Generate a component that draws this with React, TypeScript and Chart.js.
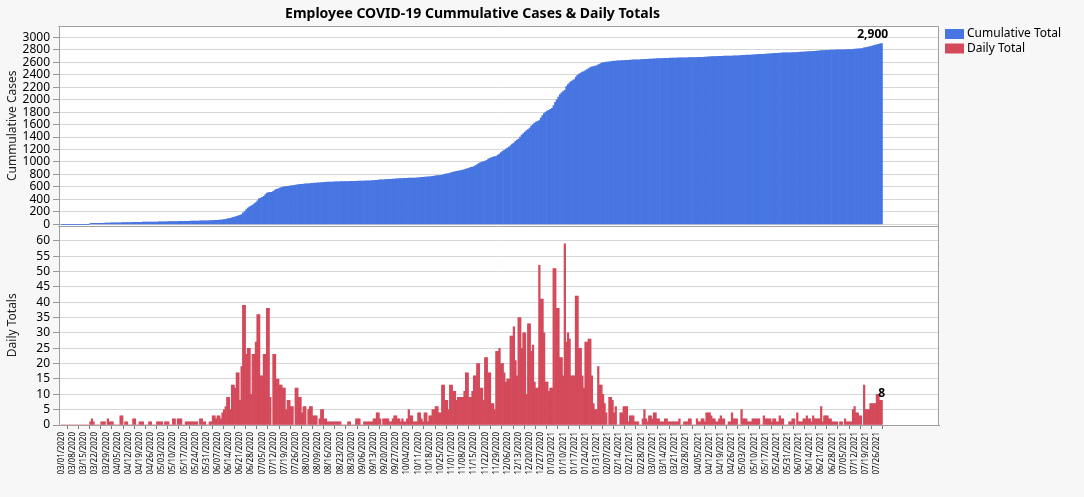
import React, { useEffect, useRef } from 'react';
import { Chart, registerables } from 'chart.js';

Chart.register(...registerables);

const START_DATE = '03/01/2020';

const xTickLabels = [
  '03/01/2020', '03/08/2020', '03/15/2020', '03/22/2020', '03/29/2020', '04/05/2020', '04/12/2020', '04/19/2020',
  '04/26/2020', '05/03/2020', '05/10/2020', '05/17/2020', '05/24/2020', '05/31/2020', '06/07/2020', '06/14/2020',
  '06/21/2020', '06/28/2020', '07/05/2020', '07/12/2020', '07/19/2020', '07/26/2020', '08/02/2020', '08/09/2020',
  '08/16/2020', '08/23/2020', '08/30/2020', '09/06/2020', '09/13/2020', '09/20/2020', '09/27/2020', '10/04/2020',
  '10/11/2020', '10/18/2020', '10/25/2020', '11/01/2020', '11/08/2020', '11/15/2020', '11/22/2020', '11/29/2020',
  '12/06/2020', '12/13/2020', '12/20/2020', '12/27/2020', '01/03/2021', '01/10/2021', '01/17/2021', '01/24/2021',
  '01/31/2021', '02/07/2021', '02/14/2021', '02/21/2021', '02/28/2021', '03/07/2021', '03/14/2021', '03/21/2021',
  '03/28/2021', '04/05/2021', '04/12/2021', '04/19/2021', '04/26/2021', '05/03/2021', '05/10/2021', '05/17/2021',
  '05/24/2021', '05/31/2021', '06/07/2021', '06/14/2021', '06/21/2021', '06/28/2021', '07/05/2021', '07/12/2021',
  '07/19/2021', '07/26/2021',
];

const cumulativeTicks = [0, 200, 400, 600, 800, 1000, 1200, 1400, 1600, 1800, 2000, 2200, 2400, 2600, 2800, 3000];
const dailyTicks = [0, 5, 10, 15, 20, 25, 30, 35, 40, 45, 50, 55, 60];

// one value per day, starting 03/01/2020
const dailyTotals = [
  0, 0, 0, 0, 0, 0, 0, 0, 0, 0,
  0, 0, 0, 0, 0, 0, 0, 0, 1, 2,
  1, 0, 0, 0, 0, 1, 1, 1, 0, 2,
  1, 1, 1, 0, 0, 0, 0, 3, 3, 0,
  1, 1, 0, 0, 0, 2, 2, 0, 0, 1,
  1, 1, 0, 0, 0, 1, 1, 0, 0, 0,
  1, 1, 1, 1, 0, 1, 1, 1, 0, 0,
  2, 2, 0, 2, 2, 2, 0, 0, 1, 1,
  1, 1, 1, 1, 1, 1, 0, 2, 2, 1,
  1, 0, 0, 1, 1, 3, 3, 2, 3, 3,
  2, 4, 5, 6, 9, 9, 5, 13, 13, 12,
  17, 17, 8, 19, 39, 39, 23, 25, 25, 10,
  23, 23, 27, 36, 36, 16, 16, 23, 23, 38,
  38, 9, 0, 23, 23, 15, 15, 13, 13, 12,
  12, 5, 8, 8, 6, 6, 0, 12, 12, 9,
  9, 4, 6, 6, 0, 5, 6, 6, 3, 3,
  3, 0, 2, 5, 5, 2, 2, 1, 1, 1,
  1, 1, 1, 1, 1, 1, 0, 0, 0, 0,
  1, 1, 0, 0, 0, 2, 2, 2, 0, 0,
  1, 1, 1, 1, 1, 1, 2, 2, 4, 4,
  2, 0, 2, 2, 2, 2, 1, 1, 2, 3,
  3, 2, 2, 1, 2, 1, 1, 2, 5, 3,
  3, 1, 1, 1, 4, 4, 2, 1, 4, 4,
  1, 3, 3, 5, 5, 6, 6, 4, 4, 13,
  13, 8, 8, 5, 13, 13, 11, 11, 8, 9,
  9, 9, 9, 11, 17, 17, 9, 9, 11, 16,
  16, 20, 20, 12, 12, 8, 22, 22, 17, 17,
  7, 7, 5, 24, 24, 25, 20, 20, 17, 14,
  15, 15, 29, 29, 32, 21, 16, 35, 35, 25,
  30, 30, 10, 33, 33, 24, 26, 14, 12, 12,
  52, 41, 41, 30, 14, 14, 11, 12, 12, 51,
  51, 38, 38, 22, 22, 16, 59, 27, 30, 28,
  16, 16, 16, 42, 42, 25, 25, 16, 12, 27,
  27, 28, 28, 16, 7, 5, 5, 19, 13, 13,
  10, 7, 4, 0, 9, 9, 8, 4, 6, 0,
  0, 4, 4, 6, 6, 6, 1, 3, 3, 3,
  1, 1, 1, 0, 0, 2, 5, 2, 1, 3,
  3, 2, 4, 4, 2, 2, 1, 1, 1, 2,
  2, 1, 1, 1, 1, 1, 1, 1, 2, 0,
  0, 1, 1, 1, 2, 2, 0, 0, 0, 2,
  1, 1, 2, 2, 1, 4, 4, 4, 3, 2,
  2, 1, 1, 2, 3, 2, 2, 0, 0, 1,
  1, 4, 2, 2, 2, 0, 0, 5, 2, 2,
  2, 1, 1, 1, 2, 2, 2, 2, 2, 0,
  0, 3, 2, 2, 2, 2, 1, 2, 2, 1,
  1, 3, 2, 2, 0, 0, 0, 1, 1, 2,
  2, 0, 4, 1, 1, 1, 2, 2, 3, 2,
  2, 1, 3, 2, 2, 2, 2, 6, 1, 3,
  3, 3, 2, 2, 1, 1, 1, 1, 0, 1,
  1, 0, 2, 1, 1, 1, 1, 5, 6, 4,
  4, 3, 3, 0, 13, 5, 5, 5, 7, 7,
  7, 7, 10, 10, 8, 8,
];

// one value per day, starting 03/01/2020
const cumulativeTotals = [
  0, 0, 0, 0, 0, 0, 0, 0, 0, 0,
  0, 0, 0, 0, 0, 0, 0, 0, 12, 14,
  15, 15, 15, 15, 15, 16, 17, 18, 18, 20,
  21, 22, 23, 23, 23, 23, 23, 25, 27, 27,
  28, 29, 29, 29, 29, 31, 32, 32, 32, 33,
  33, 34, 34, 34, 34, 35, 36, 36, 36, 36,
  37, 38, 38, 39, 39, 40, 41, 42, 42, 42,
  43, 44, 44, 45, 46, 47, 47, 47, 48, 49,
  49, 50, 51, 51, 52, 53, 53, 54, 55, 56,
  57, 57, 57, 58, 59, 61, 62, 64, 65, 67,
  69, 72, 76, 80, 86, 91, 96, 104, 112, 120,
  128, 138, 145, 158, 185, 205, 235, 260, 282, 292,
  310, 328, 350, 378, 408, 420, 432, 450, 478, 503,
  510, 512, 513, 530, 548, 560, 570, 582, 590, 598,
  604, 607, 611, 615, 619, 622, 623, 628, 633, 637,
  641, 643, 646, 648, 648, 651, 654, 657, 659, 661,
  663, 664, 665, 668, 671, 673, 675, 676, 677, 678,
  679, 680, 681, 682, 683, 684, 685, 686, 686, 686,
  687, 688, 688, 688, 688, 690, 692, 694, 694, 694,
  695, 696, 697, 698, 699, 700, 702, 704, 707, 710,
  712, 712, 714, 716, 718, 720, 721, 722, 724, 727,
  729, 731, 732, 734, 735, 736, 737, 739, 740, 740,
  740, 741, 742, 744, 747, 750, 752, 753, 756, 759,
  760, 762, 765, 768, 772, 776, 780, 783, 786, 790,
  797, 804, 810, 815, 820, 828, 836, 842, 848, 852,
  858, 864, 870, 877, 884, 894, 904, 913, 920, 928,
  942, 958, 975, 990, 1000, 1008, 1015, 1028, 1045, 1060,
  1070, 1078, 1085, 1092, 1110, 1128, 1150, 1170, 1188, 1205,
  1222, 1240, 1262, 1285, 1305, 1330, 1350, 1368, 1400, 1430,
  1455, 1480, 1505, 1520, 1545, 1575, 1600, 1625, 1640, 1652,
  1665, 1705, 1745, 1775, 1800, 1815, 1830, 1845, 1860, 1905,
  1955, 1995, 2040, 2080, 2110, 2130, 2148, 2210, 2240, 2270,
  2290, 2305, 2320, 2360, 2390, 2410, 2425, 2440, 2450, 2465,
  2480, 2500, 2515, 2525, 2532, 2537, 2542, 2560, 2572, 2585,
  2592, 2598, 2602, 2603, 2608, 2612, 2615, 2618, 2620, 2621,
  2621, 2622, 2625, 2628, 2630, 2631, 2632, 2634, 2636, 2637,
  2638, 2639, 2640, 2640, 2641, 2643, 2646, 2647, 2648, 2650,
  2651, 2652, 2654, 2656, 2657, 2658, 2659, 2660, 2661, 2662,
  2663, 2664, 2665, 2666, 2666, 2667, 2668, 2669, 2670, 2670,
  2670, 2671, 2671, 2672, 2673, 2674, 2674, 2674, 2675, 2676,
  2677, 2678, 2679, 2680, 2681, 2683, 2685, 2687, 2689, 2690,
  2691, 2692, 2693, 2694, 2695, 2696, 2697, 2697, 2697, 2698,
  2699, 2700, 2701, 2702, 2703, 2704, 2705, 2708, 2710, 2711,
  2713, 2714, 2715, 2716, 2718, 2720, 2722, 2724, 2726, 2726,
  2726, 2728, 2730, 2732, 2734, 2736, 2737, 2739, 2741, 2742,
  2743, 2745, 2747, 2749, 2749, 2749, 2749, 2750, 2751, 2753,
  2755, 2755, 2759, 2760, 2761, 2762, 2764, 2766, 2768, 2769,
  2771, 2772, 2774, 2776, 2778, 2780, 2782, 2785, 2786, 2788,
  2790, 2791, 2792, 2793, 2794, 2795, 2796, 2797, 2797, 2797,
  2798, 2798, 2800, 2801, 2802, 2803, 2804, 2806, 2809, 2811,
  2813, 2815, 2817, 2817, 2830, 2835, 2840, 2845, 2852, 2859,
  2866, 2873, 2880, 2888, 2894, 2900,
];

const TITLE = 'Employee COVID-19 Cummulative Cases & Daily Totals';
const SERIES_NAMES = ['Cumulative Total', 'Daily Total'];
const COLORS = ['#4775e1', '#d44a5b'];
const FONT = '"Noto Sans", "Open Sans", sans-serif';

function dayOffset(label: string): number {
  const [m, d, y] = label.split('/').map(Number);
  const [m0, d0, y0] = START_DATE.split('/').map(Number);
  return Math.round((Date.UTC(y, m - 1, d) - Date.UTC(y0, m0 - 1, d0)) / 86400000);
}

const labelByDay: Record<number, string> = {};
xTickLabels.forEach((l) => { labelByDay[dayOffset(l)] = l; });

const decorations = {
  id: 'decorations',
  beforeDraw(chart: any) {
    const { ctx, chartArea: a } = chart;
    ctx.save();
    ctx.fillStyle = '#ffffff';
    ctx.fillRect(a.left, a.top, a.right - a.left, a.bottom - a.top);
    ctx.restore();
  },
  afterDraw(chart: any) {
    const { ctx, chartArea: a, scales } = chart;
    const yTop = scales.y;
    const yBot = scales.y2;
    const x = scales.x;
    ctx.save();
    // frame
    ctx.strokeStyle = '#a0a0a0';
    ctx.lineWidth = 1;
    const L = Math.round(a.left) - 0.5;
    const R = Math.round(a.right) - 0.5;
    const T = Math.round(a.top) + 0.5;
    const B = Math.round(a.bottom) + 0.5;
    const M = Math.round(yTop.bottom) + 0.5;
    ctx.beginPath();
    ctx.moveTo(L, T); ctx.lineTo(R, T); ctx.lineTo(R, B);
    ctx.moveTo(L, M); ctx.lineTo(R, M);
    ctx.stroke();

    // title
    ctx.fillStyle = '#000';
    ctx.font = `bold 14px ${FONT}`;
    ctx.textAlign = 'center';
    ctx.textBaseline = 'middle';
    ctx.fillText(TITLE, a.right / 2 + 3, 14);

    // legend
    ctx.font = `12px ${FONT}`;
    ctx.textAlign = 'left';
    SERIES_NAMES.forEach((name, i) => {
      const top = a.top + 3 + i * 14.5;
      ctx.fillStyle = COLORS[i];
      ctx.fillRect(a.right + 6, top, 19, 10);
      ctx.fillStyle = '#000';
      ctx.fillText(name, a.right + 28, top + 5);
    });

    // end-value labels
    const lastDay = dailyTotals.length - 1;
    const lastCum = cumulativeTotals[cumulativeTotals.length - 1];
    const lastDaily = dailyTotals[lastDay];
    const px = x.getPixelForValue(lastDay);
    ctx.font = `bold 12px ${FONT}`;
    ctx.textAlign = 'center';
    ctx.textBaseline = 'bottom';
    ctx.fillText(lastCum.toLocaleString('en-US'), px - 9, yTop.getPixelForValue(lastCum) - 3);
    ctx.textBaseline = 'middle';
    ctx.fillText(String(lastDaily), px, yBot.getPixelForValue(lastDaily) - 7);
    ctx.restore();
  },
};

export default function App() {
  const ref = useRef<HTMLCanvasElement>(null);
  useEffect(() => {
    document.body.style.margin = '0';
    document.body.style.background = '#f7f7f7';
    const canvas = ref.current as HTMLCanvasElement;
    const yTickOpts = {
      autoSkip: false,
      padding: 3,
      color: '#000',
      font: { family: FONT, size: 12 },
      callback: (v: any) => String(v),
    };
    const chart = new Chart(canvas, {
      type: 'bar',
      data: {
        datasets: [
          {
            label: SERIES_NAMES[0],
            data: cumulativeTotals.map((v, i) => ({ x: i, y: v })),
            yAxisID: 'y',
            backgroundColor: COLORS[0],
            borderWidth: 0,
            grouped: false,
            barPercentage: 1,
            categoryPercentage: 1,
          } as any,
          {
            label: SERIES_NAMES[1],
            data: dailyTotals.map((v, i) => ({ x: i, y: v })),
            yAxisID: 'y2',
            backgroundColor: COLORS[1],
            borderWidth: 0,
            grouped: false,
            barPercentage: 1,
            categoryPercentage: 1,
          } as any,
        ],
      },
      options: {
        responsive: false,
        maintainAspectRatio: false,
        animation: false,
        devicePixelRatio: 1,
        events: [],
        layout: { padding: { top: 26, right: 145, bottom: 0, left: 0 } },
        plugins: {
          legend: { display: false },
          title: { display: false },
          tooltip: { enabled: false },
        },
        scales: {
          x: {
            type: 'linear',
            min: -1.7,
            max: 551,
            offset: false,
            afterBuildTicks: (s: any) => {
              s.ticks = xTickLabels.map((l) => ({ value: dayOffset(l) }));
            },
            afterFit: (s: any) => { s.height = 72; },
            ticks: {
              autoSkip: false,
              minRotation: 90,
              maxRotation: 90,
              padding: 3,
              color: '#000',
              font: { family: FONT, size: 8 },
              callback: (v: any) => labelByDay[v] ?? '',
            },
            grid: { drawOnChartArea: false, drawTicks: true, tickLength: 4, tickColor: '#777' },
            border: { color: '#a0a0a0' },
          },
          y: {
            type: 'linear',
            position: 'left',
            stack: 'panels',
            stackWeight: 1,
            weight: 2,
            min: -19,
            max: 3181,
            afterBuildTicks: (s: any) => { s.ticks = cumulativeTicks.map((v) => ({ value: v })); },
            afterFit: (s: any) => { s.width = 59; },
            ticks: yTickOpts,
            grid: { color: '#d6d6d6', tickColor: '#999', tickLength: 6 },
            border: { color: '#a0a0a0' },
            title: { display: true, text: 'Cummulative Cases', color: '#222', font: { family: FONT, size: 12 }, padding: { top: 5, bottom: 0 } },
          },
          y2: {
            type: 'linear',
            position: 'left',
            stack: 'panels',
            stackWeight: 1,
            weight: 1,
            min: 0,
            max: 65,
            afterBuildTicks: (s: any) => { s.ticks = dailyTicks.map((v) => ({ value: v })); },
            afterFit: (s: any) => { s.width = 59; },
            ticks: yTickOpts,
            grid: { color: '#d6d6d6', tickColor: '#999', tickLength: 6 },
            border: { color: '#a0a0a0' },
            title: { display: true, text: 'Daily Totals', color: '#222', font: { family: FONT, size: 12 }, padding: { top: 5, bottom: 0 } },
          },
        } as any,
      },
      plugins: [decorations],
    });
    return () => chart.destroy();
  }, []);
  return (
    <div style={{ width: 1084, height: 497 }}>
      <canvas ref={ref} width={1084} height={497} style={{ display: 'block' }} />
    </div>
  );
}
